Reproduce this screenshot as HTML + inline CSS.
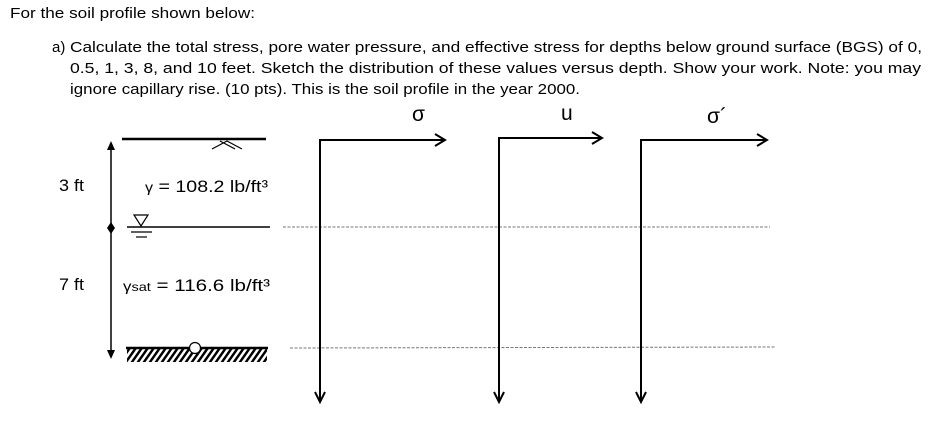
<!DOCTYPE html>
<html><head><meta charset="utf-8"><style>
html,body{margin:0;padding:0;background:#fff;}
svg{display:block;}
.t{font-family:"Liberation Sans",sans-serif;font-size:15px;fill:#000;}
.a{font-family:"Liberation Sans",Arial,sans-serif;font-size:17px;fill:#000;}
</style></head><body>
<svg width="943" height="421" viewBox="0 0 943 421">
<defs>
<pattern id="hatch" width="6" height="14" patternUnits="userSpaceOnUse" patternTransform="skewX(-35)">
<rect width="3" height="14" fill="#000"/></pattern>
</defs>
<g>
<text class="t" x="10" y="18" textLength="245" lengthAdjust="spacingAndGlyphs">For the soil profile shown below:</text>
<text class="t" x="52" y="52">a)</text>
<text class="t" x="70" y="52" textLength="852" lengthAdjust="spacingAndGlyphs">Calculate the total stress, pore water pressure, and effective stress for depths below ground surface (BGS) of 0,</text>
<text class="t" x="70" y="73" textLength="851" lengthAdjust="spacingAndGlyphs">0.5, 1, 3, 8, and 10 feet. Sketch the distribution of these values versus depth. Show your work. Note: you may</text>
<text class="t" x="70" y="94" textLength="510" lengthAdjust="spacingAndGlyphs">ignore capillary rise. (10 pts). This is the soil profile in the year 2000.</text>
</g>
<g stroke="#000">
<line x1="122" y1="139" x2="266" y2="139" stroke-width="2.5"/>
<polyline points="212,149 227,141 242,149" fill="none" stroke-width="1.2"/>
<line x1="220" y1="141" x2="235" y2="149" stroke-width="1.2"/>
<line x1="111" y1="146" x2="111" y2="354" stroke-width="1.5"/>
<polygon points="111,141 107,150 115,150" fill="#000" stroke="none"/>
<polygon points="111,359 107,350 115,350" fill="#000" stroke="none"/>
<polygon points="107,228 115,228 111,222" fill="#000" stroke="none"/>
<polygon points="107,228 115,228 111,234" fill="#000" stroke="none"/>
<line x1="127" y1="227" x2="270" y2="227" stroke-width="1.5"/>
<polygon points="134,215 148,215 141,226" fill="none" stroke-width="1.2"/>
<line x1="131" y1="232" x2="152" y2="232" stroke-width="1.2"/>
<line x1="136" y1="237" x2="147" y2="237" stroke-width="1.2"/>
<rect x="127" y="349" width="140" height="13" fill="url(#hatch)" stroke="none"/>
<line x1="126" y1="348" x2="268" y2="348" stroke-width="2.5"/>
<circle cx="195" cy="348" r="5.5" fill="#fff" stroke-width="1.2"/>
</g>
<text class="a" x="59" y="191" textLength="25" lengthAdjust="spacingAndGlyphs">3 ft</text>
<text class="a" x="59" y="290" textLength="25" lengthAdjust="spacingAndGlyphs">7 ft</text>
<text class="a" x="145" y="192" textLength="123" lengthAdjust="spacingAndGlyphs"><tspan style="font-size:14px">γ</tspan> = 108.2 lb/ft³</text>
<text class="a" x="123" y="291" textLength="147" lengthAdjust="spacingAndGlyphs"><tspan style="font-size:14px">γ</tspan><tspan style="font-size:12px">sat</tspan> = 116.6 lb/ft³</text>
<g stroke="#777" stroke-width="1" stroke-dasharray="3,1.5">
<line x1="283" y1="227" x2="770" y2="227"/>
<line x1="290" y1="348" x2="775" y2="347"/>
</g>
<g stroke="#000" stroke-width="2" fill="none">
<g>
<polyline points="445,140 320,140 320,402"/>
<polyline points="435,134 445,140 435,146"/>
<polyline points="315,392 320,402 325,392"/>
</g>
<g>
<polyline points="602,138 499,138 499,402"/>
<polyline points="592,132 602,138 592,144"/>
<polyline points="494,392 499,402 504,392"/>
</g>
<g>
<polyline points="767,140 641,140 641,402"/>
<polyline points="757,134 767,140 757,146"/>
<polyline points="636,392 641,402 646,392"/>
</g>
</g>
<text class="t" x="412" y="121" style="font-size:21px">σ</text>
<text class="t" x="561" y="120" style="font-size:21px">u</text>
<text class="t" x="707" y="123" style="font-size:21px">σ´</text>
</svg>
</body></html>
